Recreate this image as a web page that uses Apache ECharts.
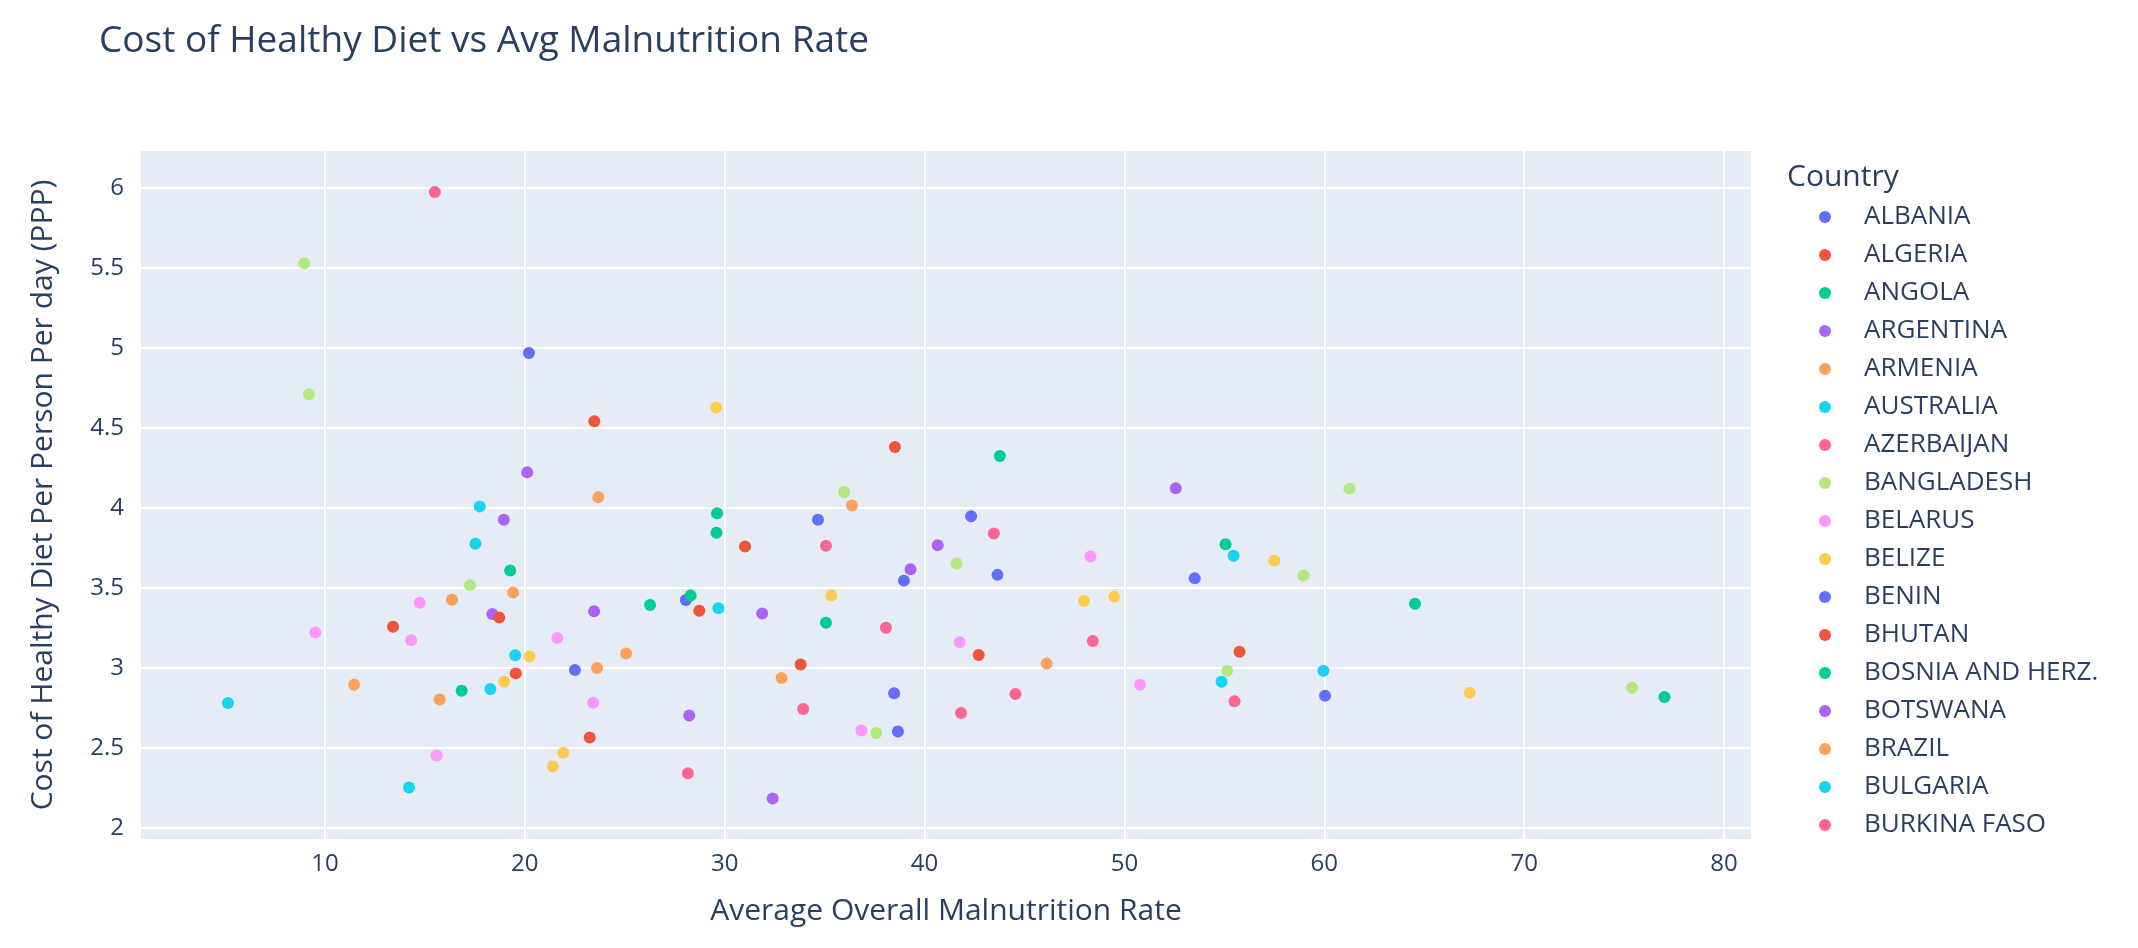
<!DOCTYPE html>
<html>
<head>
<meta charset="utf-8">
<script src="https://cdn.jsdelivr.net/npm/echarts@6/dist/echarts.min.js"></script>
<style>
html,body{margin:0;padding:0;background:#fff;}
#chart{width:2138px;height:948px;}
</style>
</head>
<body>
<div id="chart"></div>
<script>
// Country names (legend order)
const countries = ['ALBANIA','ALGERIA','ANGOLA','ARGENTINA','ARMENIA','AUSTRALIA','AZERBAIJAN','BANGLADESH','BELARUS','BELIZE','BENIN','BHUTAN','BOSNIA AND HERZ.','BOTSWANA','BRAZIL','BULGARIA','BURKINA FASO'];

// [Average Overall Malnutrition Rate, Cost of Healthy Diet (PPP)]
const albania    = [[20.21,4.969],[34.67,3.925],[42.33,3.948],[28.06,3.424],[22.51,2.986],[38.67,2.602]];
const algeria    = [[23.48,4.541],[13.41,3.257],[19.55,2.965],[23.25,2.564],[28.73,3.356],[42.71,3.08]];
const angola     = [[29.62,3.967],[29.59,3.844],[19.27,3.608],[28.30,3.452],[26.27,3.393],[16.84,2.857]];
const argentina  = [[20.12,4.222],[18.95,3.925],[18.38,3.337],[23.47,3.353],[28.23,2.702]];
const armenia    = [[23.68,4.067],[19.42,3.47],[16.36,3.426],[11.46,2.894],[15.74,2.802]];
const australia  = [[17.75,4.009],[17.53,3.775],[19.52,3.078],[18.28,2.867],[5.15,2.78]];
const azerbaijan = [[35.07,3.763],[38.07,3.251],[43.47,3.84],[48.42,3.168],[33.93,2.742]];
const bangladesh = [[8.97,5.53],[9.20,4.71],[35.98,4.098],[61.26,4.12],[17.26,3.516],[37.58,2.592],[41.61,3.652],[58.96,3.577],[55.14,2.982],[75.40,2.875]];
const belarus    = [[14.74,3.406],[9.53,3.22],[14.32,3.172],[15.59,2.451],[21.63,3.187],[23.42,2.781],[36.84,2.608],[48.30,3.696],[41.76,3.16],[50.78,2.894]];
const belize     = [[29.58,4.627],[20.24,3.07],[18.97,2.913],[35.34,3.452],[21.93,2.468],[21.41,2.383],[47.98,3.418],[49.49,3.445],[57.50,3.669],[67.28,2.844]];
const benin      = [[38.97,3.545],[43.65,3.581],[53.52,3.56],[38.48,2.84],[60.04,2.825]];
const bhutan     = [[38.52,4.38],[31.02,3.758],[33.80,3.021],[18.72,3.314],[55.76,3.10]];
const bosnia     = [[43.77,4.324],[35.07,3.282],[55.06,3.773],[64.54,3.401],[77.02,2.817]];
const botswana   = [[52.57,4.123],[40.66,3.767],[39.30,3.616],[31.88,3.339],[32.40,2.182]];
const brazil     = [[36.37,4.015],[25.07,3.09],[23.62,2.999],[32.85,2.936],[46.11,3.026]];
const bulgaria   = [[14.21,2.251],[29.69,3.372],[55.46,3.70],[59.96,2.982],[54.86,2.913]];
const burkina    = [[15.50,5.975],[28.16,2.341],[44.55,2.836],[55.51,2.79],[41.83,2.717]];

const seriesData = [albania,algeria,angola,argentina,armenia,australia,azerbaijan,bangladesh,belarus,belize,benin,bhutan,bosnia,botswana,brazil,bulgaria,burkina];
const palette = ['#636efa','#EF553B','#00cc96','#ab63fa','#FFA15A','#19d3f3','#FF6692','#B6E880','#FF97FF','#FECB52'];

const FONT = '"Open Sans", "DejaVu Sans", sans-serif';
const TXT = '#2a3f5f';

const chart = echarts.init(document.getElementById('chart'));
chart.setOption({
  animation: false,
  color: palette,
  textStyle: {fontFamily: FONT, color: TXT},
  title: [
    {text: 'Cost of Healthy Diet vs Avg Malnutrition Rate', left: 94, top: 18,
     textStyle: {fontFamily: FONT, fontSize: 37, fontWeight: 'normal', color: TXT}},
    {text: 'Country', left: 1782, top: 157,
     textStyle: {fontFamily: FONT, fontSize: 30, fontWeight: 'normal', color: TXT}}
  ],
  legend: {
    orient: 'vertical', left: 1814, top: 199,
    icon: 'circle', itemWidth: 12, itemHeight: 12, itemGap: 12,
    data: countries,
    textStyle: {fontFamily: FONT, fontSize: 26, color: TXT, lineHeight: 26, padding: [0,0,0,28]}
  },
  grid: {left: 140, right: 386, top: 150, bottom: 108, show: true, backgroundColor: '#E5ECF6', borderWidth: 0, containLabel: false},
  xAxis: {
    type: 'value', min: 0.75, max: 81.4, splitNumber: 8,
    axisLine: {show: false}, axisTick: {show: false},
    splitLine: {show: true, lineStyle: {color: '#ffffff', width: 2}},
    axisLabel: {color: TXT, fontSize: 24, fontFamily: FONT, margin: 12, showMinLabel: false, showMaxLabel: false},
    name: 'Average Overall Malnutrition Rate', nameLocation: 'middle', nameGap: 56,
    nameTextStyle: {fontFamily: FONT, fontSize: 30, color: TXT}
  },
  yAxis: {
    type: 'value', min: 1.923, max: 6.238, splitNumber: 8,
    axisLine: {show: false}, axisTick: {show: false},
    splitLine: {show: true, lineStyle: {color: '#ffffff', width: 2}},
    axisLabel: {color: TXT, fontSize: 24, fontFamily: FONT, margin: 16, showMinLabel: false, showMaxLabel: false},
    name: 'Cost of Healthy Diet Per Person Per day (PPP)', nameLocation: 'middle', nameGap: 82,
    nameTextStyle: {fontFamily: FONT, fontSize: 30, color: TXT}
  },
  series: countries.map((c, i) => ({
    name: c, type: 'scatter', data: seriesData[i], symbolSize: 12,
    itemStyle: {color: palette[i % palette.length], opacity: 1}
  }))
});
</script>
</body>
</html>
